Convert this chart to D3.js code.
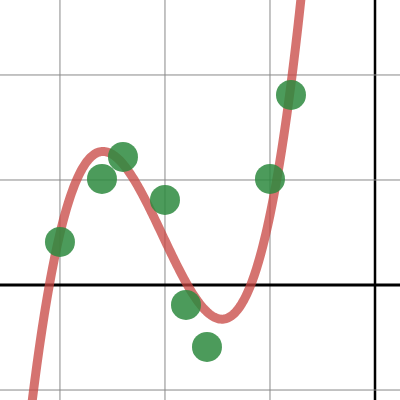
<!DOCTYPE html>
<html><head><script src="https://cdn.jsdelivr.net/npm/d3@7"></script>
<style>body{margin:0}</style></head><body>
<svg id="c" width="400" height="400"></svg>
<script>
const pointsX = [-3, -2.6, -2.4, -2, -1.8, -1.6, -1, -0.8];
const pointsY = [0.41, 1.01, 1.22, 0.81, -0.19, -0.59, 1.01, 1.81];
const cubicCoef = [14.42, 6.6*3.774, 6.6*2.0235, 6.6/3]; // c0 + c1 x + c2 x^2 + c3 x^3
const gridX = [-3, -2, -1, 0];
const gridY = [-1, 0, 1, 2];

const svg = d3.select("#c");
const x = d3.scaleLinear().domain([-3.571, 0.238]).range([0, 400]);
const y = d3.scaleLinear().domain([-1.095, 2.714]).range([400, 0]);
svg.append("rect").attr("width",400).attr("height",400).attr("fill","#fff");
gridX.forEach(v=>svg.append("line").attr("x1",x(v)).attr("x2",x(v)).attr("y1",0).attr("y2",400)
  .attr("stroke",v===0?"#000":"#888").attr("stroke-width",v===0?2.5:1));
gridY.forEach(v=>svg.append("line").attr("y1",y(v)).attr("y2",y(v)).attr("x1",0).attr("x2",400)
  .attr("stroke",v===0?"#000":"#888").attr("stroke-width",v===0?3:1));
const f = t => cubicCoef[0]+cubicCoef[1]*t+cubicCoef[2]*t*t+cubicCoef[3]*t*t*t;
const xs = d3.range(-3.4, -0.6, 0.01);
svg.append("path").datum(xs).attr("d", d3.line().x(t=>x(t)).y(t=>y(f(t))))
  .attr("fill","none").attr("stroke","#c74440").attr("stroke-opacity",0.75).attr("stroke-width",9);
svg.selectAll("circle.p").data(pointsX).enter().append("circle")
  .attr("cx",d=>x(d)).attr("cy",(d,i)=>y(pointsY[i])).attr("r",15)
  .attr("fill","#2d8a3e").attr("fill-opacity",0.85);
</script></body></html>
